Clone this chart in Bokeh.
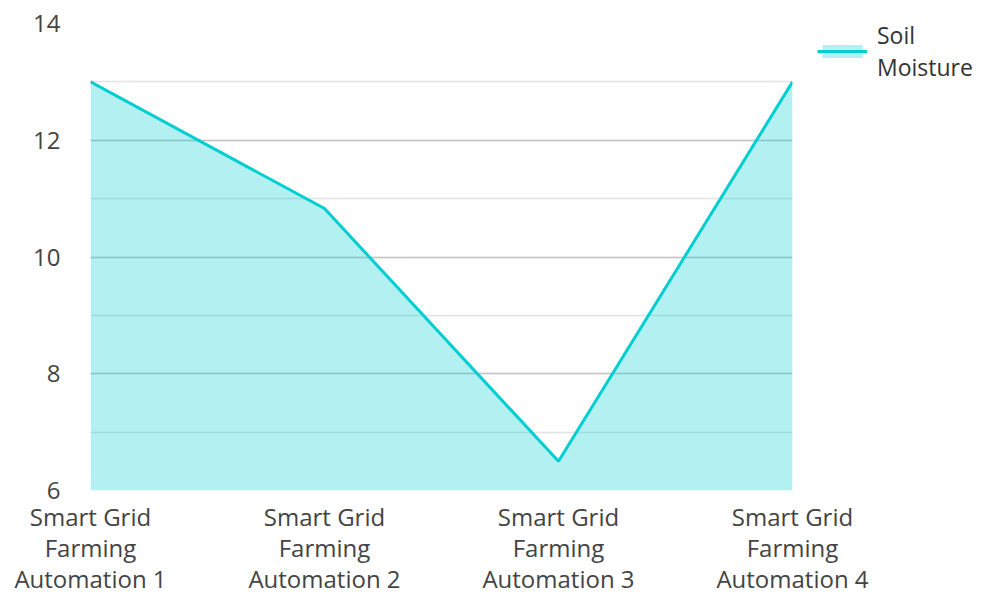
from bokeh.plotting import figure
from bokeh.models import FixedTicker, Legend, LegendItem, SingleIntervalTicker, ColumnDataSource
from bokeh.embed import file_html
from bokeh.resources import INLINE

categories = ["Smart Grid\nFarming\nAutomation 1", "Smart Grid\nFarming\nAutomation 2",
              "Smart Grid\nFarming\nAutomation 3", "Smart Grid\nFarming\nAutomation 4"]
soil_moisture = [13.0, 10.83, 6.5, 13.0]
series_name = "Soil\nMoisture"
y_ticks = [6, 8, 10, 12, 14]

xs = list(range(len(categories)))
src = ColumnDataSource(dict(x=xs, y=soil_moisture, base=[6] * len(xs)))

FONT = "Open Sans"
TEXT = "#444444"

p = figure(frame_width=702, frame_height=467, output_backend="svg", toolbar_location=None,
           x_range=(0, len(categories) - 1), y_range=(6, 14),
           min_border_left=90, min_border_top=23, min_border_bottom=104, min_border_right=0)
p.outline_line_color = None
p.background_fill_color = "white"

area = p.varea(x="x", y1="base", y2="y", source=src, fill_color="#00CED1", fill_alpha=0.3)
line = p.line(x="x", y="y", source=src, line_color="#00CED1", line_width=3)

p.xaxis.ticker = FixedTicker(ticks=xs)
p.xaxis.major_label_overrides = {i: c for i, c in enumerate(categories)}
p.yaxis.ticker = SingleIntervalTicker(interval=2, num_minor_ticks=2)

for ax in (p.xaxis, p.yaxis):
    ax.axis_line_color = None
    ax.major_tick_line_color = None
    ax.minor_tick_line_color = None
    ax.major_label_text_font = FONT
    ax.major_label_text_font_size = "24px"
    ax.major_label_text_color = TEXT
p.xaxis.major_label_text_line_height = 0.95
p.yaxis.major_label_standoff = 24
p.xaxis.major_label_standoff = 3

p.xgrid.grid_line_color = None
p.ygrid.grid_line_color = "#c4c4c4"
p.ygrid.grid_line_width = 1.5
p.ygrid.minor_grid_line_color = "#e3e3e3"
p.ygrid.minor_grid_line_width = 1.5

legend = Legend(items=[LegendItem(label=series_name, renderers=[area, line])],
                location=(25, 407), border_line_color=None, background_fill_alpha=0,
                label_text_font=FONT, label_text_font_size="23px", label_text_color="#333333",
                glyph_width=50, glyph_height=16, padding=0, spacing=0,
                label_standoff=10, margin=0)
p.add_layout(legend, "right")

open("out.html", "w").write(file_html(p, INLINE))
